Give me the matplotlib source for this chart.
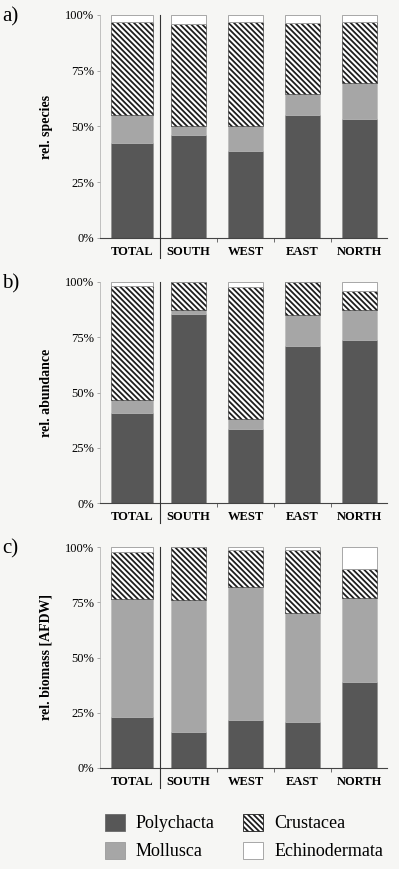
import numpy as np
import matplotlib
matplotlib.use("Agg")
import matplotlib.pyplot as plt
from matplotlib.patches import Patch

# --- Data (percent of total) ---
sites = ["TOTAL", "SOUTH", "WEST", "EAST", "NORTH"]

species_poly   = [42.5, 46.0, 38.8, 55.2, 53.3]
species_moll   = [12.5, 4.3, 11.5, 9.4, 16.1]
species_crust  = [42.0, 45.5, 46.6, 31.7, 27.5]
species_echino = [3.0, 4.2, 3.1, 3.7, 3.1]

abund_poly   = [40.7, 85.5, 33.5, 70.9, 73.9]
abund_moll   = [6.1, 1.7, 4.5, 14.3, 13.3]
abund_crust  = [51.5, 12.8, 59.6, 14.8, 8.9]
abund_echino = [1.7, 0.0, 2.4, 0.0, 3.9]

biomass_poly   = [23.3, 16.2, 21.5, 21.0, 38.8]
biomass_moll   = [53.1, 60.0, 60.2, 49.2, 37.9]
biomass_crust  = [21.3, 23.8, 17.1, 28.6, 13.2]
biomass_echino = [2.3, 0.0, 1.2, 1.2, 10.1]

taxa = ["Polychacta", "Mollusca", "Crustacea", "Echinodermata"]
y_ticks = [0, 25, 50, 75, 100]
y_ticklabels = ["0%", "25%", "50%", "75%", "100%"]

# --- Style ---
W, H = 399, 869
BG = "#f6f6f4"
DARK = "#575757"
LIGHT = "#a6a6a6"
HATCH_EDGE = "#1e1e1e"
SERIF = ["Liberation Serif", "DejaVu Serif"]

plt.rcParams["font.family"] = SERIF
plt.rcParams["hatch.linewidth"] = 1.3

STYLES = [
    dict(color=DARK, edgecolor="#8a8a8a", linewidth=0.4),
    dict(color=LIGHT, edgecolor="#b8b8b8", linewidth=0.4),
    dict(color="white", edgecolor=HATCH_EDGE, linewidth=0.4, hatch="\\" * 6),
    dict(color="white", edgecolor="#9a9a9a", linewidth=0.6),
]

# panel label, y label, series, y pixel of 0%, y pixel of 100%
PANELS = [
    ("a)", "rel. species", (species_poly, species_moll, species_crust, species_echino), 238, 15),
    ("b)", "rel. abundance", (abund_poly, abund_moll, abund_crust, abund_echino), 503, 282),
    ("c)", "rel. biomass [AFDW]", (biomass_poly, biomass_moll, biomass_crust, biomass_echino), 768, 547),
]
AX_LEFT, AX_RIGHT = 100, 387

fig = plt.figure(figsize=(W / 100, H / 100), dpi=100, facecolor=BG)

x = np.arange(len(sites))
widths = [0.74, 0.62, 0.62, 0.62, 0.62]

for label, ylabel, series, y0, y100 in PANELS:
    ax = fig.add_axes([AX_LEFT / W, 1 - y0 / H,
                       (AX_RIGHT - AX_LEFT) / W, (y0 - y100) / H])
    ax.set_facecolor("none")

    bottom = np.zeros(len(sites))
    for vals, st in zip(series, STYLES):
        vals = np.array(vals)
        ax.bar(x, vals, width=widths, bottom=bottom, zorder=2, **st)
        bottom += vals

    ax.set_xlim(-0.56, 4.49)
    ax.set_ylim(0, 100)

    # divider between TOTAL and the sites
    ax.plot([0.5, 0.5], [-9, 100], color="#333333", linewidth=0.8,
            clip_on=False, zorder=3)

    ax.set_xticks(x)
    ax.set_xticklabels(sites, fontsize=9, fontweight="bold")
    ax.set_xticks([1.5, 2.5, 3.5], minor=True)
    ax.tick_params(axis="x", which="major", length=0, pad=6)
    ax.tick_params(axis="x", which="minor", length=3, width=0.6,
                   direction="out", color="#555555")

    ax.set_yticks(y_ticks)
    ax.set_yticklabels(y_ticklabels, fontsize=9)
    ax.tick_params(axis="y", length=2, width=0.5, pad=2, color="#888888")

    for side in ["top", "right"]:
        ax.spines[side].set_visible(False)
    ax.spines["bottom"].set_linewidth(0.8)
    ax.spines["bottom"].set_color("#444444")
    ax.spines["left"].set_linewidth(0.5)
    ax.spines["left"].set_color("#aaaaaa")

    ax.set_ylabel(ylabel, fontsize=10, fontweight="bold")
    ax.yaxis.set_label_coords(-0.165, 0.5)

    fig.text(2 / W, 1 - (y100 + 2) / H, label, fontsize=15, ha="left", va="center")

# --- Legend ---
handles = [Patch(facecolor=st["color"], edgecolor=st["edgecolor"],
                 linewidth=0.6, hatch=st.get("hatch"), label=t)
           for st, t in zip(STYLES, taxa)]
handles[0].set_edgecolor("#6a6a6a")
handles[1].set_edgecolor("#9a9a9a")
fig.legend(handles=handles, ncol=2, loc="center",
           bbox_to_anchor=(244 / W, 1 - 837 / H),
           frameon=False, fontsize=13, handlelength=1.1, handleheight=1.1,
           handletextpad=0.6, columnspacing=1.6, labelspacing=0.5,
           borderpad=0)

fig.savefig("out.png", dpi=100, facecolor=BG)
